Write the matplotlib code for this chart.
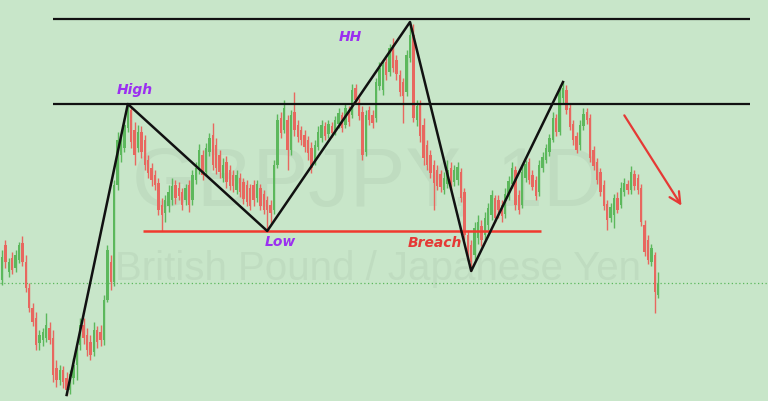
import matplotlib.pyplot as plt
import numpy as np

# daily GBPJPY candles
opens = [142.0, 145.5, 142.8, 144.2, 143.2, 144.0, 145.7, 143.8, 141.2, 139.2,
         138.2, 135.7, 136.0, 136.2, 137.2, 136.2, 133.2, 132.0, 133.0, 132.2,
         131.0, 132.2, 133.5, 135.5, 137.5, 136.5, 135.8, 134.8, 137.0, 136.8,
         136.0, 140.0, 143.8, 141.8, 151.5, 154.5, 155.2, 157.2, 159.0, 157.0,
         155.2, 156.8, 156.0, 154.0, 153.2, 152.5, 151.7, 149.5, 148.7, 149.4,
         150.0, 151.5, 151.2, 150.8, 150.0, 151.5, 150.0, 152.0, 153.0, 154.5,
         152.8, 154.8, 156.5, 155.5, 154.5, 152.2, 153.8, 153.0, 152.5, 151.0,
         152.2, 151.8, 151.5, 151.2, 151.5, 150.2, 151.2, 150.6, 150.0, 149.5,
         149.0, 153.5, 158.2, 157.0, 158.0, 155.0, 158.8, 157.5, 157.0, 156.5,
         156.0, 155.2, 154.0, 155.3, 156.2, 157.4, 156.6, 157.4, 156.8, 157.6,
         158.5, 157.5, 159.0, 158.5, 161.2, 159.8, 158.8, 154.8, 159.0, 158.5,
         158.2, 161.4, 161.0, 163.8, 162.8, 165.5, 164.0, 162.5, 161.8, 160.8,
         164.2, 166.5, 158.0, 159.5, 157.5, 155.5, 154.5, 153.5, 153.0, 152.6,
         151.0, 151.6, 153.2, 151.8, 152.0, 152.8, 150.8, 146.5, 145.5, 144.5,
         146.2, 147.4, 146.5, 147.5, 148.5, 150.2, 150.0, 149.5, 148.6, 150.4,
         151.6, 153.0, 150.5, 149.5, 152.2, 153.8, 152.5, 152.0, 150.8, 153.2,
         154.0, 154.8, 156.0, 158.2, 156.8, 160.2, 161.0, 159.2, 157.6, 156.4,
         155.5, 157.4, 158.8, 158.2, 155.0, 153.8, 152.8, 151.5, 149.6, 148.2,
         148.5, 150.2, 149.5, 150.8, 151.6, 151.0, 152.6, 152.2, 151.2, 147.5,
         146.0, 143.8, 144.5, 140.5]
highs = [145.0, 146.0, 144.2, 144.8, 145.0, 145.8, 146.4, 144.5, 141.7, 139.7,
         138.8, 137.0, 137.2, 138.7, 137.8, 137.0, 134.0, 133.5, 133.4, 132.8,
         133.0, 134.2, 135.4, 138.2, 138.2, 137.2, 136.5, 137.8, 137.4, 137.5,
         140.5, 145.5, 144.5, 152.0, 156.8, 156.5, 158.2, 159.6, 159.4, 157.8,
         157.5, 157.4, 156.5, 154.5, 153.7, 153.0, 152.2, 150.2, 150.5, 151.5,
         152.2, 152.0, 151.8, 151.2, 151.6, 152.0, 153.0, 153.8, 155.6, 155.0,
         155.7, 156.7, 157.7, 156.2, 155.0, 154.2, 154.4, 153.5, 153.0, 153.0,
         152.7, 152.2, 152.0, 151.6, 152.0, 152.0, 151.6, 151.0, 150.4, 150.0,
         154.0, 158.6, 158.8, 160.0, 158.5, 159.0, 160.8, 158.0, 157.4, 157.0,
         156.4, 155.8, 156.0, 157.4, 158.0, 157.8, 158.0, 157.8, 158.4, 159.2,
         158.8, 159.7, 159.4, 161.6, 161.6, 160.2, 159.4, 159.0, 159.4, 159.0,
         162.2, 163.8, 164.0, 164.2, 165.6, 166.2, 164.5, 163.0, 162.2, 165.0,
         167.8, 167.6, 160.0, 160.0, 158.2, 156.0, 155.0, 154.0, 153.5, 153.0,
         152.8, 154.0, 153.8, 153.5, 153.8, 153.2, 151.2, 147.0, 146.0, 147.8,
         148.5, 148.0, 148.8, 149.7, 151.0, 150.5, 150.5, 150.0, 151.2, 152.4,
         153.8, 153.4, 151.0, 153.4, 154.0, 154.2, 153.0, 152.4, 154.0, 154.8,
         155.6, 156.6, 158.8, 158.6, 161.5, 161.8, 161.5, 159.6, 158.0, 156.8,
         158.0, 159.2, 159.2, 158.6, 155.4, 154.2, 153.2, 152.0, 150.0, 149.7,
         150.6, 150.8, 151.8, 152.2, 152.0, 153.4, 153.0, 152.6, 151.6, 148.0,
         146.5, 145.6, 144.8, 142.8]
lows = [141.5, 143.2, 142.3, 142.6, 142.8, 143.7, 143.4, 140.8, 138.8, 137.4,
        135.0, 135.0, 135.4, 135.8, 135.6, 131.8, 131.3, 131.5, 131.2, 130.5,
        130.6, 131.6, 132.0, 135.0, 135.6, 134.4, 134.0, 134.4, 135.2, 135.4,
        135.5, 139.8, 141.0, 141.4, 151.0, 153.8, 154.8, 156.8, 155.2, 153.5,
        154.8, 154.2, 153.0, 152.2, 151.4, 151.0, 148.5, 146.9, 147.8, 148.8,
        149.5, 149.6, 150.0, 149.0, 149.5, 148.8, 149.5, 151.6, 152.6, 152.0,
        152.4, 154.4, 153.0, 152.6, 152.2, 151.8, 151.2, 151.0, 150.8, 150.6,
        150.3, 149.6, 149.4, 149.0, 149.4, 149.8, 149.0, 148.6, 146.9, 147.6,
        148.6, 153.2, 156.2, 156.7, 153.0, 154.5, 156.4, 155.8, 155.5, 154.8,
        154.0, 152.7, 153.5, 155.0, 155.8, 156.0, 156.2, 156.3, 156.5, 157.2,
        156.8, 157.2, 157.4, 158.2, 159.6, 158.0, 154.0, 154.4, 157.5, 157.2,
        157.8, 161.0, 160.5, 162.0, 162.4, 162.8, 162.0, 160.4, 157.7, 160.4,
        163.8, 157.8, 157.4, 155.8, 153.5, 153.0, 152.2, 149.0, 151.0, 150.8,
        150.6, 151.2, 151.0, 151.4, 151.5, 149.8, 146.0, 144.0, 142.9, 144.0,
        145.6, 145.4, 146.0, 147.0, 148.0, 147.8, 148.2, 147.8, 148.2, 150.0,
        151.2, 149.0, 148.6, 149.2, 151.8, 151.6, 151.0, 150.0, 150.4, 152.8,
        153.7, 154.4, 155.8, 156.4, 156.5, 159.6, 158.6, 157.0, 155.5, 154.7,
        155.0, 157.0, 157.6, 153.8, 153.0, 151.6, 150.4, 149.0, 147.0, 147.8,
        147.2, 148.7, 149.2, 150.4, 150.6, 150.6, 151.0, 150.6, 147.4, 144.4,
        143.6, 143.4, 138.7, 140.2]
closes = [144.3, 143.8, 143.8, 143.0, 144.5, 145.5, 143.8, 141.2, 139.2, 137.8,
          135.5, 136.5, 136.8, 137.5, 136.0, 132.5, 132.0, 133.0, 131.8, 131.0,
          132.6, 133.5, 135.0, 137.5, 136.2, 135.0, 134.5, 137.0, 135.8, 136.0,
          140.0, 145.0, 141.8, 151.5, 156.0, 155.7, 157.5, 159.0, 155.8, 154.5,
          156.8, 154.8, 153.5, 152.7, 152.0, 151.5, 149.0, 148.5, 150.0, 150.8,
          151.4, 150.2, 150.4, 149.5, 151.2, 149.5, 152.5, 153.2, 155.0, 152.5,
          155.2, 156.2, 153.5, 153.2, 152.8, 153.5, 151.8, 151.4, 151.4, 152.5,
          150.8, 150.1, 149.8, 149.4, 150.0, 151.6, 149.4, 149.0, 149.0, 148.7,
          153.5, 158.0, 156.7, 159.2, 155.0, 158.5, 157.0, 156.3, 156.0, 155.3,
          154.7, 153.2, 155.5, 156.8, 157.5, 156.4, 157.6, 156.7, 158.0, 158.7,
          157.2, 159.2, 157.8, 161.0, 160.0, 158.4, 154.5, 158.5, 158.0, 157.7,
          161.8, 163.2, 163.5, 162.5, 165.2, 163.2, 162.6, 160.8, 160.4, 164.5,
          166.5, 158.2, 159.4, 156.4, 154.2, 153.5, 152.7, 151.7, 151.4, 151.3,
          152.2, 153.0, 151.4, 153.0, 153.3, 150.2, 146.5, 144.5, 143.8, 147.2,
          147.8, 146.0, 148.2, 149.2, 150.5, 148.2, 149.0, 148.4, 150.6, 151.9,
          153.2, 149.5, 149.0, 152.8, 153.6, 152.0, 151.3, 150.4, 153.5, 154.3,
          155.2, 156.2, 158.2, 156.8, 161.0, 161.2, 159.0, 157.3, 156.0, 155.0,
          157.5, 158.6, 158.0, 154.2, 153.4, 152.0, 150.8, 149.4, 148.0, 149.3,
          150.2, 149.0, 151.2, 151.7, 151.0, 152.8, 151.4, 151.0, 147.8, 144.8,
          144.0, 145.2, 140.8, 141.7]

# swing points of the drawn pattern (candle index, high or low)
pivots = [(19, 'low'), (37, 'high'), (78, 'low'), (120, 'high'), (138, 'low'), (165, 'high')]
labels = ['High', 'HH', 'Low', 'Breach']

bg = '#c8e6c9'
up_col = '#5cb85c'
down_col = '#e8675f'

o = np.array(opens)
h = np.array(highs)
l = np.array(lows)
c = np.array(closes)
x = np.arange(len(c))
cols = np.where(c >= o, up_col, down_col)

fig = plt.figure(figsize=(7.68, 4.01), dpi=100, facecolor=bg)
ax = fig.add_axes([0, 0, 1, 1])
ax.set_facecolor(bg)
ax.set_xlim(-0.6, 225.3)
ax.set_ylim(129.9, 170.0)
ax.axis('off')

# watermark
wm = '#bfdcc0'
ax.text(107.5, 149.4, 'GBPJPY, 1D', fontsize=60, color=wm, ha='center', va='baseline',
        family=['Liberation Sans', 'DejaVu Sans'], zorder=0)
ax.text(110.5, 142.0, 'British Pound / Japanese Yen', fontsize=29, color=wm,
        ha='center', va='baseline', family=['Liberation Sans', 'DejaVu Sans'], zorder=0)

# candles
ax.vlines(x, l, h, colors=cols, lw=1, zorder=2)
body = np.maximum(np.abs(c - o), 0.15)
ax.bar(x, body, bottom=np.minimum(o, c), width=0.72, color=cols, zorder=3)

# last price line
ax.axhline(c[-1], color=up_col, ls=(0, (1, 2)), lw=0.9, zorder=1)

# horizontal levels
top = h[120]
mid = h[37]
ax.hlines([top + 0.3, mid], 15, 220, colors='#111111', lw=1.6, zorder=4)
ax.hlines(l[78], 41.5, 158.5, colors='#f03a2e', lw=1.8, zorder=4)

# zigzag
zx = [p[0] for p in pivots]
zy = [l[i] if kind == 'low' else h[i] for i, kind in pivots]
ax.plot(zx, zy, color='#111111', lw=1.8, zorder=5)

# labels
purple = '#9b30f0'
ax.text(39.1, 161.0, labels[0], color=purple, fontsize=10, fontweight='bold',
        style='italic', ha='center', va='center', zorder=6)
ax.text(102.4, 166.3, labels[1], color=purple, fontsize=10, fontweight='bold',
        style='italic', ha='center', va='center', zorder=6)
ax.text(81.8, 145.8, labels[2], color=purple, fontsize=10, fontweight='bold',
        style='italic', ha='center', va='center', zorder=6)
ax.text(127.4, 145.7, labels[3], color='#e53935', fontsize=10, fontweight='bold',
        style='italic', ha='center', va='center', zorder=6)

# arrow
ax.annotate('', xy=(200.3, 149.2), xytext=(182.6, 158.7),
            arrowprops=dict(arrowstyle='->,head_length=0.8,head_width=0.4',
                            color='#e53935', lw=1.6), zorder=6)

fig.savefig('out.png', dpi=100, facecolor=bg)
